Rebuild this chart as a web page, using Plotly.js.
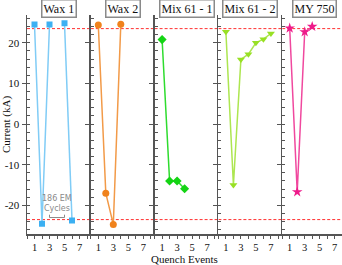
<!DOCTYPE html>
<html><head><meta charset="utf-8">
<script src="https://cdn.plot.ly/plotly-3.0.1.min.js"></script>
<style>html,body{margin:0;padding:0;background:#fff}#c{width:342px;height:265px}</style>
</head><body><div id="c"></div>
<script>
// Data
const panelNames = ["Wax 1", "Wax 2", "Mix 61 - 1", "Mix 61 - 2", "MY 750"];
const wax1X = [1, 2, 3, null, 5, 6];
const wax1Y = [24.5, -24.5, 24.5, null, 24.8, -23.7];
const wax2X = [1, 2, 3, 4];
const wax2Y = [24.4, -17.0, -24.7, 24.6];
const mix611X = [1, 2, 3, 4];
const mix611Y = [20.8, -14.0, -14.0, -15.9];
const mix612X = [1, 2, 3, 4, 5, 6, 7];
const mix612Y = [22.7, -15.0, 15.9, 17.2, 20.0, 20.9, 22.3];
const my750X = [1, 2, 3, 4];
const my750Y = [23.6, -16.7, 22.7, 24.0];
const limitLevel = 23.5;
const xTickVals = [1, 3, 5, 7];
const yTickVals = [-20, -10, 0, 10, 20];
const cycleNote = "186 EM<br>Cycles";

const series = [
  {x: wax1X, y: wax1Y, mc: "#3cb0f2", lc: "#80ccf6", sym: "square", size: 6},
  {x: wax2X, y: wax2Y, mc: "#f0821c", lc: "#f29a48", sym: "circle", size: 7},
  {x: mix611X, y: mix611Y, mc: "#14d414", lc: "#2edc2e", sym: "diamond", size: 7},
  {x: mix612X, y: mix612Y, mc: "#98e024", lc: "#ade650", sym: "triangle-down", size: 7},
  {x: my750X, y: my750Y, mc: "#ee1a8a", lc: "#f0489e", sym: "star", size: 8}
];

const W = 342, mL = 27;
const plotW = W - mL;
const panelPx = 63.8;
const pxPerUnit = 7.5;
const serif = "Liberation Serif, Times New Roman, serif";
const axisCol = "#555";

const traces = [];
const layout = {
  width: 342, height: 265,
  margin: {l: mL, r: 0, t: 15, b: 31},
  paper_bgcolor: "#fff", plot_bgcolor: "rgba(0,0,0,0)",
  showlegend: false,
  font: {family: serif, size: 11, color: "#111"},
  annotations: [], shapes: []
};

series.forEach((s, i) => {
  const n = i + 1;
  const xa = n === 1 ? "x" : "x" + n;
  const ya = n === 1 ? "y" : "y" + n;
  const d0 = (panelPx * i) / plotW;
  let d1 = (panelPx * (i + 1)) / plotW;
  if (d1 > 1) d1 = 1;
  const rangeMax = (d1 - d0) * plotW / pxPerUnit;
  [limitLevel, -limitLevel].forEach(v => {
    traces.push({
      x: [0, rangeMax], y: [v, v], xaxis: xa, yaxis: ya, type: "scatter", mode: "lines",
      line: {color: "#ff3030", width: 1, dash: "3px,2px"}, hoverinfo: "skip"
    });
  });
  traces.push({
    x: s.x, y: s.y, xaxis: xa, yaxis: ya, type: "scatter", mode: "lines+markers",
    connectgaps: false,
    line: {color: s.lc, width: 1.5},
    marker: {color: s.mc, symbol: s.sym, size: s.size}
  });
  const xKey = n === 1 ? "xaxis" : "xaxis" + n;
  const yKey = n === 1 ? "yaxis" : "yaxis" + n;
  layout[xKey] = {
    domain: [d0, d1], range: [0, rangeMax], anchor: ya,
    showgrid: false, zeroline: false, showline: true, linecolor: axisCol, linewidth: 1.5,
    tickmode: "array", tickvals: xTickVals, ticktext: xTickVals.map(String),
    ticks: "outside", ticklen: 3, tickwidth: 1, tickcolor: axisCol,
    minor: {dtick: 1, tick0: 0, ticks: "outside", ticklen: 3, tickcolor: axisCol, showgrid: false},
    tickfont: {family: serif, size: 10.5, color: "#111"}
  };
  layout[yKey] = {
    anchor: xa, range: [-27.05, 26.85],
    showgrid: false, zeroline: false, showline: true, linecolor: axisCol, linewidth: 1.5,
    tickmode: "array", tickvals: yTickVals, ticktext: yTickVals.map(String),
    showticklabels: n === 1,
    ticks: "outside", ticklen: 4, tickwidth: 1, tickcolor: axisCol,
    minor: {dtick: 2, tick0: 0, ticks: "inside", ticklen: 3, tickcolor: axisCol, showgrid: false},
    tickfont: {family: serif, size: 11, color: "#111"}
  };
  if (n !== 1) layout[yKey].matches = "y";
  const centerPx = panelPx * i + panelPx / 2;
  layout.annotations.push({
    text: panelNames[i], xref: "paper", yref: "paper",
    x: centerPx / plotW, xanchor: "center", y: 1, yshift: 7, yanchor: "middle",
    showarrow: false, font: {family: serif, size: 12, color: "#111"},
    bgcolor: "#fff", bordercolor: "#8a8a8a", borderwidth: 1.5, borderpad: 1
  });
});

layout.yaxis.title = {text: "Current (kA)", font: {family: serif, size: 11, color: "#111"}, standoff: 2};
layout.annotations.push({
  text: "Quench Events", xref: "paper", yref: "paper", x: 0.5, xanchor: "center", y: 0, yshift: -25, yanchor: "middle",
  showarrow: false, font: {family: serif, size: 11, color: "#111"}
});
layout.annotations.push({
  text: cycleNote, xref: "x", yref: "y", x: 4, y: -19.6, xanchor: "center", showarrow: false,
  font: {family: "DejaVu Sans, sans-serif", size: 8, color: "#8a8a8a"}
});
layout.shapes.push({
  type: "path", xref: "x", yref: "y", path: "M 3 -22.3 L 3 -23 L 5 -23 L 5 -22.3",
  line: {color: "#8a8a8a", width: 1}
});

Plotly.newPlot("c", traces, layout, {staticPlot: true, displayModeBar: false});
</script></body></html>
